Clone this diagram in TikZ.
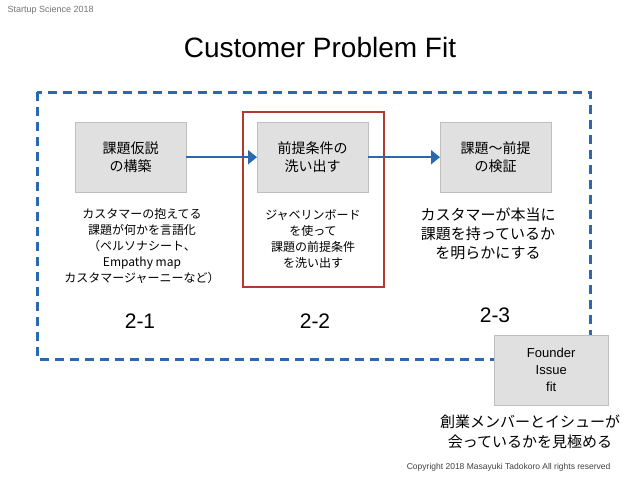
\documentclass[tikz,border=0pt]{standalone}
\usepackage{fontspec}
\setmainfont{Liberation Sans}
\newfontfamily\cjk{Noto Sans CJK JP}
\usetikzlibrary{arrows.meta}
\definecolor{dblue}{HTML}{2A68B0}
\definecolor{dred}{HTML}{B03A30}
\begin{document}
\begin{tikzpicture}[x=1pt,y=-1pt,
  box/.style={draw=black!25,fill=black!12,minimum width=111pt,minimum height=70pt,align=center,font=\cjk\fontsize{14}{18}\selectfont,anchor=north west},
  arr/.style={draw=dblue,line width=2.5pt,-{Triangle[length=9pt,width=14pt]}},
  txt/.style={align=center,font=\cjk\fontsize{12}{16}\selectfont},
  num/.style={font=\fontsize{21}{24}\selectfont}]
\useasboundingbox (0,0) rectangle (638,479);
\node[anchor=north west,text=black!55,font=\fontsize{9}{10}\selectfont] (hdr) at (4,2) {Startup Science 2018};
\node[font=\fontsize{28}{32}\selectfont] (title) at (320,47) {Customer Problem Fit};
\draw[draw=dblue,line width=3pt,dash pattern=on 9pt off 6pt] (37,92) rectangle (590,359);
\draw[draw=dred,line width=2.2pt] (243,112) rectangle (384,287);
\node[box] (b1) at (75,122) {課題仮説\\の構築};
\node[box] (b2) at (257,122) {前提条件の\\洗い出す};
\node[box] (b3) at (440,122) {課題〜前提\\の検証};
\draw[arr] (b1.east) -- (b2.west);
\draw[arr] (b2.east) -- (b3.west);
\node[txt] (t1) at (142,246) {カスタマーの抱えてる\\課題が何かを言語化\\（ペルソナシート、\\Empathy map\\カスタマージャーニーなど）};
\node[txt] (t2) at (313,239) {ジャベリンボード\\を使って\\課題の前提条件\\を洗い出す};
\node[txt,font=\cjk\fontsize{15}{19}\selectfont] (t3) at (488,234) {カスタマーが本当に\\課題を持っているか\\を明らかにする};
\node[num] (n1) at (140,321) {2-1};
\node[num] (n2) at (315,321) {2-2};
\node[num] (n3) at (495,315) {2-3};
\node[box,minimum width=114pt,font=\fontsize{13}{17}\selectfont] (f) at (494,335) {Founder\\Issue\\fit};
\node[txt,font=\cjk\fontsize{15}{20}\selectfont] (t4) at (530,432) {創業メンバーとイシューが\\会っているかを見極める};
\node[anchor=east,font=\fontsize{8.5}{10}\selectfont,text=black!75] (cp) at (614,467) {Copyright 2018 Masayuki Tadokoro All rights reserved};
\end{tikzpicture}
\end{document}
